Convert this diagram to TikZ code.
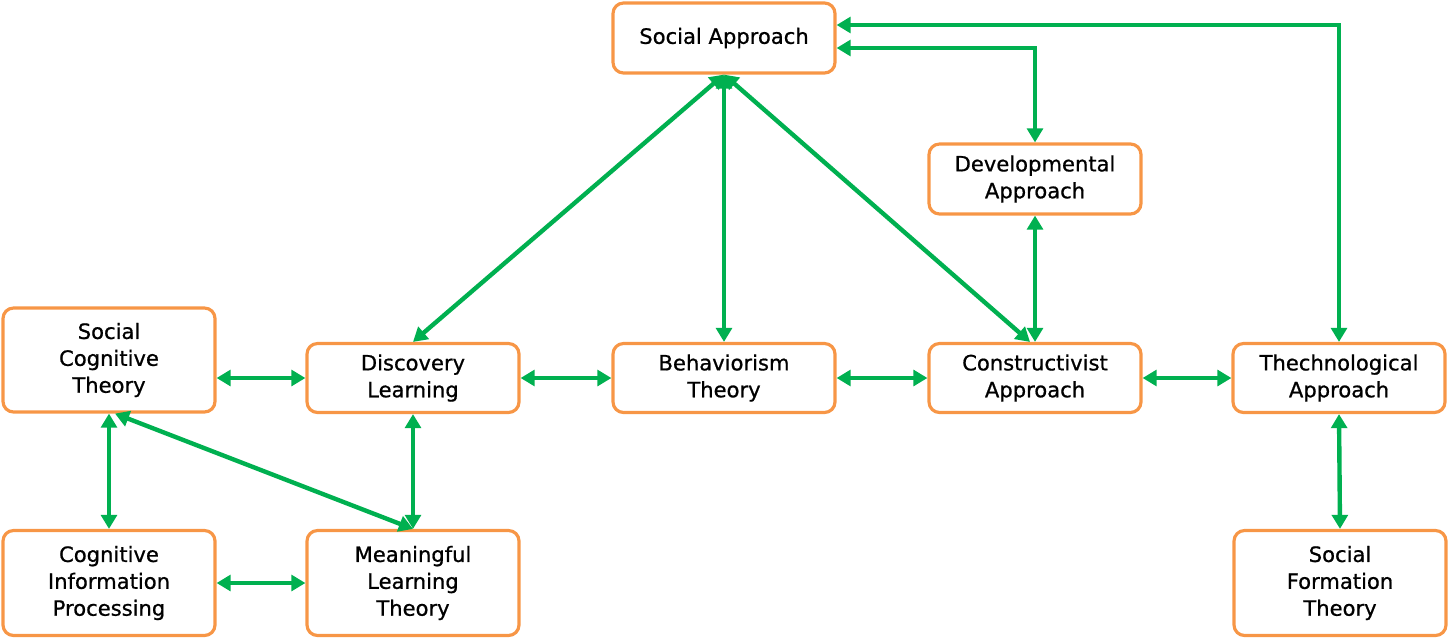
\documentclass[tikz,border=0pt]{standalone}
\usepackage{fontspec}
\setmainfont{DejaVu Sans}
\newfontfamily\boxfont[FakeBold=0.8]{DejaVu Sans}
\usetikzlibrary{arrows.meta}
\definecolor{boxor}{RGB}{247,150,70}
\definecolor{arrg}{RGB}{0,176,80}
\begin{document}
\begin{tikzpicture}[x=0.02cm,y=-0.02cm,
  bx/.style={draw=boxor,line width=1.8pt,rounded corners=6pt,minimum width=212*0.02cm,align=center,font=\boxfont\fontsize{12}{15.3}\selectfont,inner sep=0pt},
  ar/.style={draw=arrg,line width=2.5pt,{Triangle[length=8pt,width=9pt]}-{Triangle[length=8pt,width=9pt]}}]
\useasboundingbox (0,0) rectangle (1449,639);
\node[bx,minimum width=222*0.02cm,minimum height=70*0.02cm] (sa) at (724,38) {Social Approach};
\node[bx,minimum height=70*0.02cm] (dev) at (1035,179) {Developmental\\Approach};
\node[bx,minimum height=104*0.02cm] (sct) at (109,360) {Social\\Cognitive\\Theory};
\node[bx,minimum height=69*0.02cm] (dis) at (413,378) {Discovery\\Learning};
\node[bx,minimum width=222*0.02cm,minimum height=69*0.02cm] (beh) at (724,378) {Behaviorism\\Theory};
\node[bx,minimum height=69*0.02cm] (con) at (1035,378) {Constructivist\\Approach};
\node[bx,minimum height=69*0.02cm] (tec) at (1339,378) {Thechnological\\Approach};
\node[bx,minimum height=105*0.02cm] (cip) at (109,583) {Cognitive\\Information\\Processing};
\node[bx,minimum height=105*0.02cm] (mlt) at (413,583) {Meaningful\\Learning\\Theory};
\node[bx,minimum height=105*0.02cm] (sft) at (1340,583) {Social\\Formation\\Theory};
\coordinate (c1) at (1339,25);
\coordinate (c2) at (1035,48);
\draw[ar] (sa.east|-c1) -- (c1) -- (tec.north);
\draw[ar] (sa.east|-c2) -- (c2) -- (dev.north);
\draw[ar] (sa.south) -- (dis.north);
\draw[ar] (sa.south) -- (beh.north);
\draw[ar] (sa.south) -- ([xshift=-0.1cm]con.north);
\draw[ar] (dev.south) -- (con.north);
\draw[ar] (sct.east|-dis) -- (dis.west);
\draw[ar] (dis) -- (beh);
\draw[ar] (beh) -- (con);
\draw[ar] (con) -- (tec);
\draw[ar] (sct.south) -- (cip.north);
\draw[ar] (dis.south) -- (mlt.north);
\draw[ar] ([xshift=0.12cm]sct.south) -- (mlt.north);
\draw[ar] (cip) -- (mlt);
\draw[ar] (tec.south) -- (sft.north);
\end{tikzpicture}
\end{document}
